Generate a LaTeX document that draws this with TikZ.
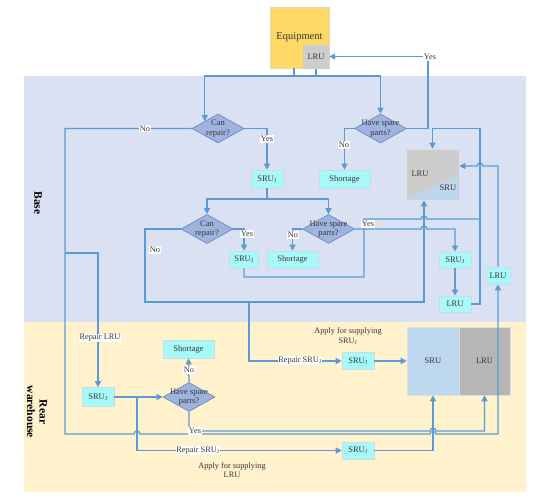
\documentclass[tikz,border=0pt]{standalone}
\usepackage{fontspec}
\setmainfont{Liberation Serif}
\usetikzlibrary{arrows.meta,shapes.geometric}
\definecolor{basebg}{RGB}{218,225,242}
\definecolor{rearbg}{RGB}{255,242,204}
\definecolor{eqfill}{RGB}{255,217,102}
\definecolor{eqline}{RGB}{225,215,190}
\definecolor{grayfill}{RGB}{205,205,205}
\definecolor{graybig}{RGB}{182,182,182}
\definecolor{srufill}{RGB}{189,215,238}
\definecolor{cyanfill}{RGB}{168,250,250}
\definecolor{cyanline}{RGB}{200,222,228}
\definecolor{diafill}{RGB}{158,180,222}
\definecolor{dialine}{RGB}{95,130,195}
\definecolor{flowc}{RGB}{91,155,213}
\definecolor{txt}{RGB}{55,55,55}
\begin{document}
\begin{tikzpicture}[x=1pt,y=-1pt,
  flow/.style={draw=flowc,line width=1.25pt},
  flowa/.style={flow,-{Triangle[length=6pt,width=6pt]}},
  cbox/.style={draw=cyanline,fill=cyanfill,line width=0.6pt,minimum width=32pt,minimum height=18pt,inner sep=0pt,font=\fontsize{8.5}{9}\selectfont,text=txt},
  dia/.style={diamond,draw=dialine,fill=diafill,line width=0.6pt,minimum width=52pt,minimum height=29pt,inner sep=0pt},
  dtext/.style={font=\fontsize{8.5}{9.5}\selectfont,text=txt,align=center,inner sep=0pt},
  lbl/.style={fill=white,inner sep=0.8pt,font=\fontsize{8.3}{9}\selectfont,text=txt},
  note/.style={font=\fontsize{8.3}{9.3}\selectfont,text=txt,align=center},
  lane/.style={font=\fontsize{11.5}{12.5}\selectfont\bfseries,text=black,rotate=-90,align=center},
  bigbox/.style={draw=gray!25,line width=0.6pt,inner sep=0pt,font=\fontsize{8.5}{9}\selectfont,text=txt}
]
\useasboundingbox (0,0) rectangle (550,504);
\fill[white] (0,0) rectangle (550,504);
\fill[basebg] (24,76) rectangle (526,322);
\fill[rearbg] (24,322) rectangle (526,492);
\node[lane] (tbase) at (38,203) {Base};
\node[lane] (trear) at (37,412) {Rear\\warehouse};

% ---------- nodes ----------
\node[draw=eqline,fill=eqfill,line width=0.6pt,minimum width=59pt,minimum height=61pt,inner sep=0pt,font=\fontsize{10.5}{11}\selectfont,text=txt] (eq) at (299.5,37.5) {Equipment};
\node[fill=grayfill,minimum width=26pt,minimum height=24pt,inner sep=0pt,font=\fontsize{8.5}{9}\selectfont,text=txt] (eqlru) at (316,56.5) {LRU};

\node[dia,label={[dtext]center:Can\\repair?}] (can1) at (218,128.5) {};
\node[dia,label={[dtext]center:Have spare\\parts?}] (have1) at (380.5,128.5) {};
\node[cbox] (sru1) at (267,179) {SRU\textsubscript{J}};
\node[cbox,minimum width=51pt] (short1) at (344.5,179) {Shortage};

\node[bigbox,fill=grayfill,minimum width=53pt,minimum height=51pt] (box1) at (432.5,174.5) {};
\fill[srufill] (406.3,199.7) -- (458.7,176) -- (458.7,199.7) -- cycle;
\node[font=\fontsize{8.5}{9}\selectfont,text=txt] (box1l) at (420,174) {LRU};
\node[font=\fontsize{8.5}{9}\selectfont,text=txt] (box1s) at (448,188) {SRU};

\node[dia,label={[dtext]center:Can\\repair?}] (can2) at (207,229) {};
\node[dia,label={[dtext]center:Have spare\\parts?}] (have2) at (328.5,229) {};
\node[cbox,minimum width=29pt,minimum height=17pt] (sru2) at (244,259.5) {SRU\textsubscript{J}};
\node[cbox,minimum width=51pt,minimum height=17pt] (short2) at (292.5,259.5) {Shortage};
\node[cbox,minimum width=32pt,minimum height=16pt] (sru3) at (455,260) {SRU\textsubscript{J}};
\node[cbox,minimum width=32pt,minimum height=16pt] (lru2) at (455,304) {LRU};
\node[cbox,minimum width=24pt,minimum height=17pt] (lru3) at (498,275.5) {LRU};

\node[cbox,minimum width=32pt,minimum height=19pt] (rsru1) at (98,397) {SRU\textsubscript{J}};
\node[dia,label={[dtext]center:Have spare\\parts?}] (have3) at (189,397) {};
\node[cbox,minimum width=51pt] (short3) at (188.5,349) {Shortage};
\node[cbox,minimum width=32pt,minimum height=17pt] (rsru2) at (358,361) {SRU\textsubscript{J}};
\node[cbox,minimum width=32pt,minimum height=17pt] (rsru3) at (358,450.5) {SRU\textsubscript{J}};
\node[bigbox,fill=srufill,minimum width=52pt,minimum height=68pt] (bsru) at (433,361) {SRU};
\node[bigbox,fill=graybig,minimum width=51pt,minimum height=68pt] (blru) at (484.5,361) {LRU};

% ---------- connectors ----------
\coordinate (e1) at (294,76);
\coordinate (e2) at (316,76);
\draw[flow] (eq.south -| e1) -- (e1);
\draw[flow] (eqlru.south -| e2) -- (e2);
\draw[flow] (e1) -- (e2);
\draw[flowa] (e1) -| (can1.north west);
\draw[flowa] (e2) -| (have1.north);

\draw[flowa] (can1.east) -| (sru1.north);

\coordinate (c1) at (65,128.5);
\coordinate (c2) at (65,434);
\coordinate (c3) at (498,434);
\draw[flowa] (can1.west) -- (c1) -- (c2) -- (134,434) arc[start angle=180,end angle=0,radius=3pt] -- (430,434) arc[start angle=180,end angle=0,radius=3pt] -- (c3) -- (lru3.south);

\coordinate (c4) at (65,253);
\draw[flowa] (c4) -| (rsru1.north);

\draw[flowa] (have1.west) -| (short1.north);
\coordinate (h1) at (428,56.5);
\draw[flowa] (have1.east) -| (h1) -- (eqlru.east);

\coordinate (j2) at (267,199);
\draw[flow] (sru1.south) -- (j2);
\draw[flowa] (j2) -| (can2.north);
\draw[flowa] (j2) -| (have2.north);

\draw[flowa] (can2.east) -| (sru2.north);

\coordinate (d1) at (145,302);
\coordinate (d2) at (424,302);
\coordinate (d3) at (249,302);
\draw[flowa] (can2.west) -| (d1) -- (d2) -- (d2 |- box1.south);
\draw[flowa] (d3) |- (rsru2.west);

\draw[flowa] (have2.west) -| (short2.north);
\draw[flowa] (have2.east) -- (421,229) arc[start angle=180,end angle=0,radius=3pt] -| (sru3.north);

\coordinate (f1) at (244,277);
\coordinate (f2) at (364,277);
\coordinate (f3) at (364,219);
\coordinate (f4) at (480,219);
\draw[flow] (sru2.south) -- (f1) -- (f2) -- (f3) -- (421,219) arc[start angle=180,end angle=0,radius=3pt] -- (f4);

\draw[flowa] (sru3.south) -- (lru2.north);
\coordinate (g1) at (480,304);
\coordinate (g2) at (480,128.5);
\coordinate (g3) at (432.5,128.5);
\draw[flowa] (lru2.east) -- (g1) -- (g2) -- (g3) -- (box1.north);

\coordinate (k1) at (498,166);
\draw[flowa] (lru3.north) -- (k1) -- (483,166) arc[start angle=0,end angle=180,radius=3pt] -- (box1.east |- k1);

\draw[flowa] (rsru1.east) -- (have3.west);
\coordinate (m1) at (137,397);
\coordinate (m2) at (137,450.5);
\draw[flowa] (m1) -- (m2) -- (rsru3.west);
\draw[flowa] (have3.north) -- (short3.south);
\coordinate (p1) at (189,431);
\coordinate (p2) at (484.5,431);
\draw[flowa] (have3.south) -- (p1) -- (430,431) arc[start angle=180,end angle=0,radius=3pt] -- (p2) -- (blru.south);
\draw[flowa] (rsru3.east) -| (bsru.south);
\draw[flowa] (rsru2.east) -- (bsru.west);

% ---------- labels ----------
\node[lbl] (ly1) at (267,139) {Yes};
\node[lbl] (ln1) at (145,128.5) {No};
\node[lbl] (ln2) at (344,145) {No};
\node[lbl] (ly2) at (430,57) {Yes};
\node[lbl] (ly3) at (247,234) {Yes};
\node[lbl] (ln3) at (155,250) {No};
\node[lbl] (ln4) at (293,235) {No};
\node[lbl] (ly4) at (368,224) {Yes};
\node[lbl] (lrl) at (100,338) {Repair LRU};
\node[lbl] (lrs1) at (300,360.5) {Repair SRU\textsubscript{J}};
\node[lbl] (lrs2) at (198,450.5) {Repair SRU\textsubscript{J}};
\node[lbl] (ln5) at (189,370) {No};
\node[lbl] (ly5) at (195,431) {Yes};
\node[note] (ap1) at (348,336) {Apply for supplying\\SRU\textsubscript{J}};
\node[note] (ap2) at (232,470) {Apply for supplying\\LRU};
\end{tikzpicture}
\end{document}
